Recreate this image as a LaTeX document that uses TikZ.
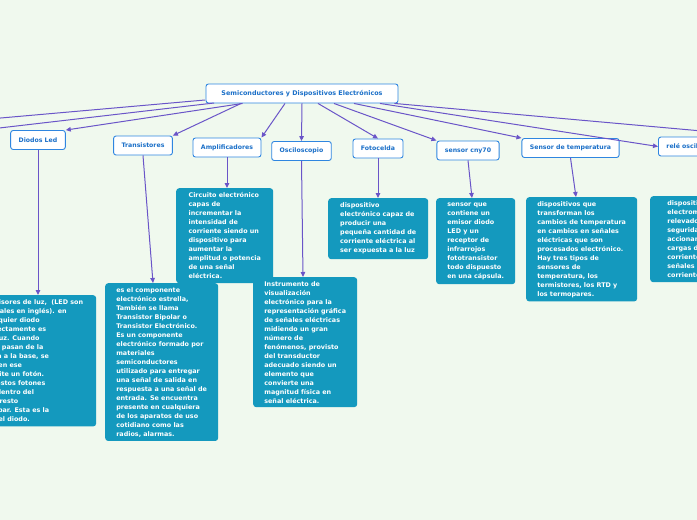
\documentclass[tikz,border=0pt]{standalone}
\usepackage{fontspec}
\setmainfont{DejaVu Sans}
\usetikzlibrary{arrows.meta}
\definecolor{bg}{HTML}{F0F9EE}
\definecolor{leaf}{HTML}{1499BE}
\definecolor{catb}{HTML}{2F86E0}
\definecolor{cattx}{HTML}{1A6FC8}
\definecolor{arr}{HTML}{6A55C8}
\tikzset{
 cat/.style={draw=catb,line width=0.9pt,fill=white,rounded corners=2.5pt,font=\bfseries\fontsize{6.2}{7}\selectfont,text=cattx,inner xsep=8pt,minimum height=19pt},
 leafbox/.style={fill=leaf,rounded corners=3pt,text=white,anchor=north west,align=left,font=\bfseries\fontsize{6.4}{9}\selectfont,inner xsep=7pt,inner ysep=4pt},
 con/.style={draw=arr,line width=1pt,-{Triangle[length=5pt,width=4.5pt]}},
}
\begin{document}
\begin{tikzpicture}[x=1pt,y=-1pt]
\fill[bg] (0,0) rectangle (697,520);
\clip (0,0) rectangle (697,520);
\useasboundingbox (0,0) rectangle (697,520);
\node[cat,minimum width=192pt,minimum height=19pt,font=\bfseries\fontsize{6.4}{7}\selectfont] (T) at (302,93.5) {Semiconductores y Dispositivos Electrónicos};
\node[cat] (c1) at (38,140) {Diodos Led};
\node[cat] (c2) at (143,145.5) {Transistores};
\node[cat] (c3) at (227,147.5) {Amplificadores};
\node[cat] (c4) at (301.5,151) {Osciloscopio};
\node[cat] (c5) at (378,148.5) {Fotocelda};
\node[cat] (c6) at (468,150.5) {sensor cny70};
\node[cat] (c7) at (570.5,148) {Sensor de temperatura};
\node[cat,anchor=west] (c8) at (658,146.5) {relé oscilador};
% leaves
\node[leafbox,minimum width=162pt,minimum height=128pt] (l1) at (-66,295) {Los diodos emisores de luz,\ \ (LED son\\ sus siglas iniciales en inglés). en\\ principio, cualquier diodo\\ polarizado directamente es\\ un emisor de luz. Cuando\\ los portadores pasan de la\\ región emisora a la base, se\\ recombinan y en ese\\ proceso se emite un fotón.\\ Una parte de estos fotones\\ se reabsorbe dentro del\\ diodo, pero el resto\\ consigue escapar. Esta es la\\ luz que emite el diodo.};
\node[leafbox,minimum width=113pt,minimum height=153pt] (l2) at (105,283) {es el componente\\ electrónico estrella,\\ También se llama\\ Transistor Bipolar o\\ Transistor Electrónico.\\ Es un componente\\ electrónico formado por\\ materiales\\ semiconductores\\ utilizado para entregar\\ una señal de salida en\\ respuesta a una señal de\\ entrada. Se encuentra\\ presente en cualquiera\\ de los aparatos de uso\\ cotidiano como las\\ radios, alarmas.};
\node[leafbox,minimum width=97pt,minimum height=95pt] (l3) at (176,188) {Circuito electrónico\\ capas de\\ incrementar la\\ intensidad de\\ corriente siendo un\\ dispositivo para\\ aumentar la\\ amplitud o potencia\\ de una señal\\ eléctrica.};
\node[leafbox,minimum width=104pt,minimum height=128pt] (l4) at (253,277) {Instrumento de\\ visualización\\ electrónico para la\\ representación gráfica\\ de señales eléctricas\\ midiendo un gran\\ número de\\ fenómenos, provisto\\ del transductor\\ adecuado siendo un\\ elemento que\\ convierte una\\ magnitud física en\\ señal eléctrica.};
\node[leafbox,minimum width=100pt,minimum height=61pt] (l5) at (328,198) {dispositivo\\ electrónico capaz de\\ producir una\\ pequeña cantidad de\\ corriente eléctrica al\\ ser expuesta a la luz};
\node[leafbox,minimum width=79pt,minimum height=86pt] (l6) at (436,198) {sensor que\\ contiene un\\ emisor diodo\\ LED y un\\ receptor de\\ infrarrojos\\ fototransistor\\ todo dispuesto\\ en una cápsula.};
\node[leafbox,minimum width=111pt,minimum height=103pt] (l7) at (526,197) {dispositivos que\\ transforman los\\ cambios de temperatura\\ en cambios en señales\\ eléctricas que son\\ procesados electrónico.\\ Hay tres tipos de\\ sensores de\\ temperatura, los\\ termistores, los RTD y\\ los termopares.};
\node[leafbox,minimum width=100pt,minimum height=86pt] (l8) at (650,196) {dispositivo\\ electromagnético,\\ relevador de\\ seguridad para el\\ accionamiento de\\ cargas de\\ corriente alterna\\ señales de\\ corriente};
% connectors from title
\coordinate (o0) at (205,100);
\coordinate (o00) at (214,103);
\coordinate (e0) at (-5,118.5);
\coordinate (e00) at (-5,128.5);
\draw[draw=arr,line width=1pt] (o0) -- (e0);
\draw[draw=arr,line width=1pt] (o00) -- (e00);
\draw[con] (T.south west) ++(37,0) -- (c1.north east);
\draw[con] ([xshift=-61pt]T.south) -- (c2.north east);
\draw[con] ([xshift=-17pt]T.south) -- (c3.north east);
\draw[con] ([xshift=0pt]T.south) -- (c4.north);
\draw[con] ([xshift=16pt]T.south) -- (c5.north);
\draw[con] ([xshift=32pt]T.south) -- (c6.north west);
\draw[con] ([xshift=52pt]T.south) -- (c7.north west);
\draw[con] ([xshift=78pt]T.south) -- (c8.west);
\coordinate (e9) at (702,131);
\draw[draw=arr,line width=1pt] ([xshift=-4pt]T.south east) -- (e9);
% category to leaf
\draw[con] (c1.south) -- (c1.south |- l1.north);
\draw[con] (c2.south) -- (153,283);
\draw[con] (c3.south) -- (c3.south |- l3.north);
\draw[con] (c4.south) -- (303,277);
\draw[con] (c5.south) -- (378,198);
\draw[con] (c6.south) -- (472,198);
\draw[con] (c7.south) -- (576,197);
\end{tikzpicture}
\end{document}
